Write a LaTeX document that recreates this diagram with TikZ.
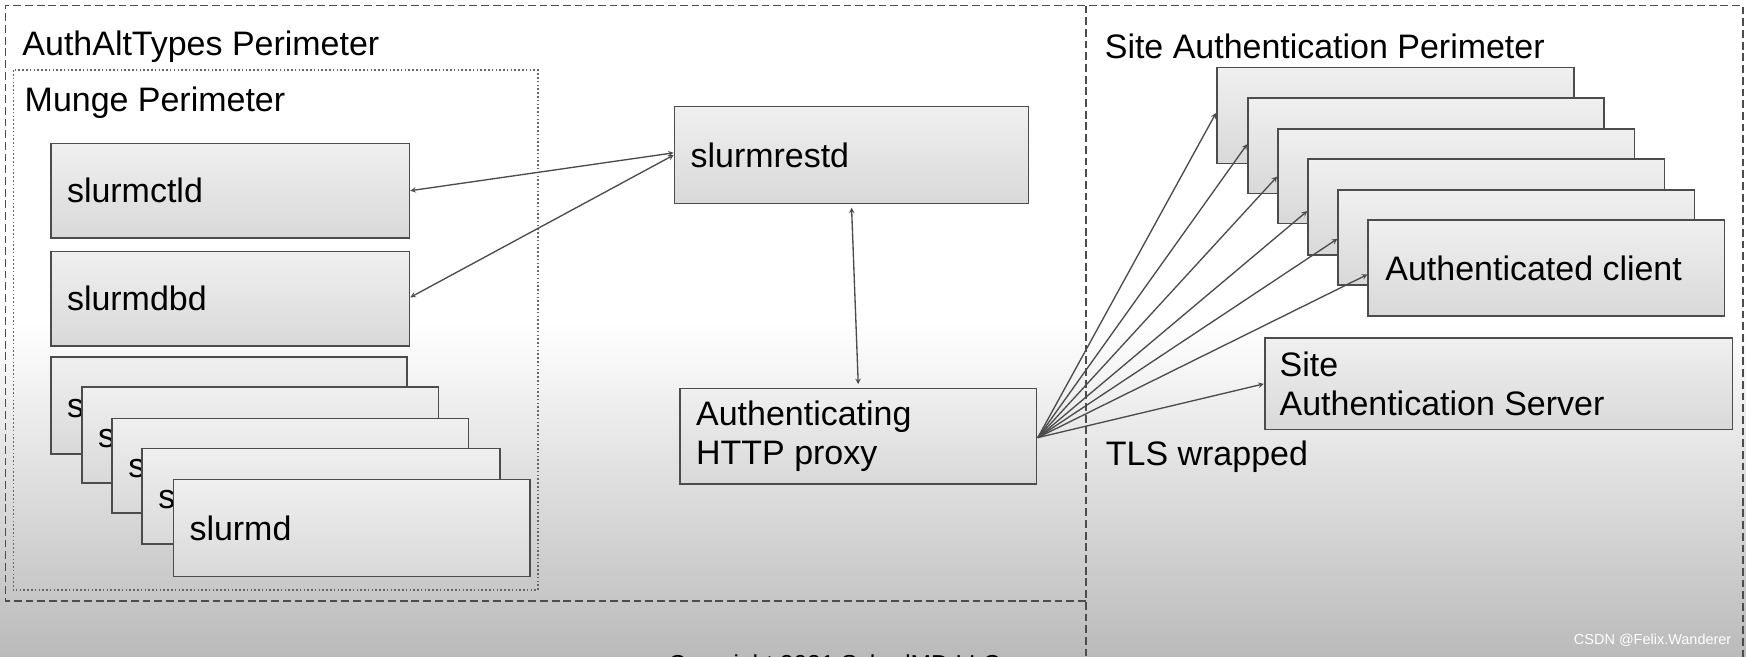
\documentclass[tikz,border=0pt]{standalone}
\usepackage{fontspec}
\setmainfont{Liberation Sans}
\begin{document}
\begin{tikzpicture}[x=1pt,y=-1pt,
  box/.style={draw=black!70,line width=1.5pt,top color=black!6,bottom color=black!15,anchor=north west,inner sep=0pt},
  lbl/.style={font=\fontsize{30.5}{35}\selectfont,anchor=west,inner sep=0pt},
  con/.style={draw=black!70,line width=1.2pt,>=stealth},
  per/.style={draw=black!70,line width=1.6pt,dash pattern=on 7pt off 3.5pt}]
\useasboundingbox (0,0) rectangle (1568,590);
\clip (0,0) rectangle (1568,590);
\fill[white] (0,0) rectangle (1568,290);
\shade[top color=white,bottom color=black!27] (0,290) rectangle (1568,590);
% perimeters
\draw[per] (975,540) -- (5,540) -- (5,5) -- (1565,5) -- (1565,590);
\draw[per] (975,5) -- (975,590);
\draw[draw=black!60,line width=1.4pt,dotted] (12,63) rectangle (483,530);
\node[lbl] (t1) at (20,42) {AuthAltTypes Perimeter};
\node[lbl] (t2) at (22,92) {Munge Perimeter};
\node[lbl] (t3) at (992,42) {Site Authentication Perimeter};
\node[lbl] (t4) at (993,410) {TLS wrapped};
% boxes
\def\bx#1#2#3#4#5#6{\node[box,minimum width=#3pt,minimum height=#4pt] (#1) at (#2) {};
  \node[lbl] (#1t) at ([xshift=#5pt]#1.west) {#6};}
\def\eb#1#2#3#4{\node[box,minimum width=#3pt,minimum height=#4pt] (#1) at (#2) {};}
\bx{ctl}{45,128}{322}{85}{15}{slurmctld}
\bx{dbd}{45,225}{322}{85}{15}{slurmdbd}
\bx{d1}{45,320}{320}{87}{15}{slurmd}
\bx{d2}{73,347}{320}{86}{15}{slurmd}
\bx{d3}{100,375}{320}{85}{15}{slurmd}
\bx{d4}{127,402}{321}{86}{15}{slurmd}
\bx{d5}{155,430}{320}{87}{15}{slurmd}
\bx{rest}{605,95}{318}{87}{15}{slurmrestd}
\node[box,minimum width=320pt,minimum height=86pt] (proxy) at (610,348) {};
\node[lbl,align=left] (proxyt) at ([xshift=15pt]proxy.west) {Authenticating\\HTTP proxy};
\eb{c1}{1092,60}{321}{86}
\eb{c2}{1120,87}{320}{86}
\eb{c3}{1147,115}{320}{85}
\eb{c4}{1174,142}{320}{86}
\eb{c5}{1201,170}{320}{85}
\bx{c6}{1228,197}{320}{86}{16}{Authenticated client}
\node[box,minimum width=420pt,minimum height=82pt] (srv) at (1135,303) {};
\node[lbl,align=left] (srvt) at ([xshift=14pt]srv.west) {Site\\Authentication Server};
% connectors
\coordinate (p) at (932,393);
\draw[con,<->] (ctl.east) -- ([yshift=2pt]rest.west);
\draw[con,<->] ([yshift=-42pt]dbd.north east) -- ([yshift=0pt]rest.west);
\draw[con,<->] ([yshift=-3pt]rest.south) -- ([yshift=3pt]proxy.north);
\draw[con,->] (p) -- ([yshift=46pt]c1.south west);
\draw[con,->] (p) -- ([yshift=45pt]c2.south west);
\draw[con,->] (p) -- ([yshift=43pt]c3.south west);
\draw[con,->] (p) -- ([yshift=40pt]c4.south west);
\draw[con,->] (p) -- ([yshift=42pt]c5.south west);
\draw[con,->] (p) -- ([yshift=38pt]c6.south west);
\draw[con,->] (p) -- (srv.west);
\node[lbl,font=\fontsize{22}{26}\selectfont] (copy) at (600,598) {Copyright 2021 SchedMD LLC};
\node[anchor=east,inner sep=0pt,font=\fontsize{13}{15}\selectfont,text=white] (wm) at (1555,575) {CSDN @Felix.Wanderer};
\end{tikzpicture}
\end{document}
